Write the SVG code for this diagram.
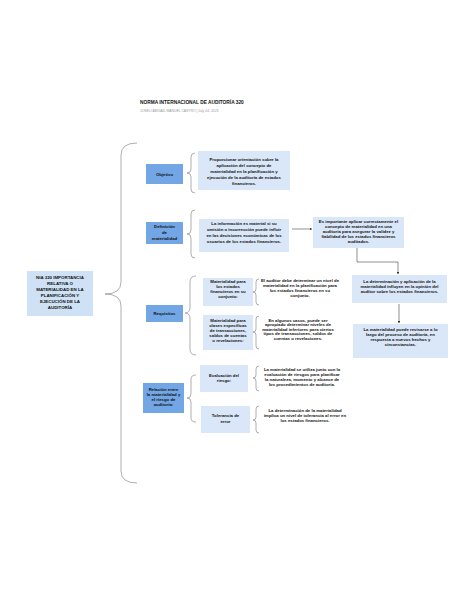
<svg xmlns="http://www.w3.org/2000/svg" width="474" height="613" viewBox="0 0 474 613">
<defs>
<marker id="ah" viewBox="0 0 6 6" refX="5.5" refY="3" markerWidth="4" markerHeight="4" orient="auto"><path d="M0,0 L6,3 L0,6 z" fill="#333"/></marker>
<style>
text{font-family:"Liberation Sans",Arial,sans-serif;fill:#111;text-anchor:middle}
.t{font-size:4.3px;font-weight:bold}
.m{font-size:4.4px;font-weight:bold}
.h{font-size:4.8px;font-weight:bold;text-anchor:start}
.s{font-size:3.4px;fill:#9a9a9a;text-anchor:start}
.b1{fill:#72a6e4}
.lb{fill:#dae7f8}
.mb{fill:#cfe1f5}
.br{fill:none;stroke:#8c8c8c;stroke-width:0.7}
.cn{fill:none;stroke:#444;stroke-width:0.6}
</style>
</defs>
<rect width="474" height="613" fill="#fff"/>
<g id="title">
<text class="h" x="140" y="104">NORMA INTERNACIONAL DE AUDITORÍA 320</text>
<text class="s" x="140" y="112">JOSELI ABIGAIL MANUEL CASTRO  |  July 04, 2023</text>
</g>
<g id="connectors">
<path class="br" d="M137,143 Q121,143 121,155 L121,282 Q121,294 105,294 Q121,294 121,306 L121,471 Q121,483 137,483"/>
<path class="br" d="M195,153 Q191,153 191,157 L191,169 Q191,173 187,173 Q191,173 191,177 L191,189 Q191,193 195,193"/>
<path class="br" d="M195,210 Q191,210 191,214 L191,230 Q191,234 187,234 Q191,234 191,238 L191,254 Q191,258 195,258"/>
<path class="br" d="M196,276 Q190,276 190,282 L190,307 Q190,313 185,313 Q190,313 190,319 L190,349 Q190,355 196,355"/>
<path class="br" d="M196,375 Q191,375 191,379 L191,394 Q191,398 187,398 Q191,398 191,402 L191,418 Q191,422 196,422"/>
<path class="br" d="M259,279 Q256,279 256,282 L256,289 Q256,292 253,292 Q256,292 256,295 L256,302 Q256,305 259,305"/>
<path class="br" d="M259,316 Q256,316 256,319 L256,329 Q256,332 253,332 Q256,332 256,335 L256,346 Q256,349 259,349"/>
<path class="br" d="M259,366 Q256,366 256,369 L256,375 Q256,378 253,378 Q256,378 256,381 L256,388 Q256,391 259,391"/>
<path class="br" d="M259,406 Q256,406 256,409 L256,417 Q256,420 253,420 Q256,420 256,423 L256,430 Q256,433 259,433"/>
<path class="cn" d="M292,229 L312,229" marker-end="url(#ah)"/>
<path class="cn" d="M357,248 L357,262 L398,262 L398,274" marker-end="url(#ah)"/>
<path class="cn" d="M399,304 L399,323" marker-end="url(#ah)"/>
</g>
<g id="main">
<rect class="mb" x="27" y="271" width="66" height="45"/>
<text class="m" x="60" y="279">NIA 320 IMPORTANCIA</text>
<text class="m" x="60" y="285">RELATIVA O</text>
<text class="m" x="60" y="291">MATERIALIDAD EN LA</text>
<text class="m" x="60" y="297">PLANIFICACIÓN Y</text>
<text class="m" x="60" y="303">EJECUCIÓN DE LA</text>
<text class="m" x="60" y="309">AUDITORÍA</text>
</g>
<g id="objetivo">
<rect class="b1" x="146" y="164" width="37" height="20"/>
<text class="t" x="164.5" y="175.5">Objetivo</text>
</g>
<g id="objetivo-texto">
<rect class="lb" x="198" y="151" width="92" height="39"/>
<text class="t" x="244" y="161">Proporcionar orientación sobre la</text>
<text class="t" x="244" y="167">aplicación del concepto de</text>
<text class="t" x="244" y="173">materialidad en la planificación y</text>
<text class="t" x="244" y="179">ejecución de la auditoría de estados</text>
<text class="t" x="244" y="185">financieros.</text>
</g>
<g id="definicion">
<rect class="b1" x="146" y="222" width="37" height="22"/>
<text class="t" x="164.5" y="228">Definición</text>
<text class="t" x="164.5" y="233.5">de</text>
<text class="t" x="164.5" y="239.5">materialidad</text>
</g>
<g id="definicion-texto">
<rect class="lb" x="199" y="219" width="90" height="33"/>
<text class="t" x="244" y="225">La información es material si su</text>
<text class="t" x="244" y="231">omisión o incorrección puede influir</text>
<text class="t" x="244" y="237">en las decisiones económicas de los</text>
<text class="t" x="244" y="243">usuarios de los estados financieros.</text>
</g>
<g id="importante">
<rect class="lb" x="313" y="217" width="91" height="31"/>
<text class="t" x="358.5" y="222.5">Es importante aplicar correctamente el</text>
<text class="t" x="358.5" y="227.5">concepto de materialidad en una</text>
<text class="t" x="358.5" y="232.5">auditoría para asegurar la validez y</text>
<text class="t" x="358.5" y="237.5">fiabilidad de los estados financieros</text>
<text class="t" x="358.5" y="242.5">auditados.</text>
</g>
<g id="opinion">
<rect class="lb" x="352" y="275" width="95" height="28"/>
<text class="t" x="399.5" y="283">La determinación y aplicación de la</text>
<text class="t" x="399.5" y="288">materialidad influyen en la opinión del</text>
<text class="t" x="399.5" y="293">auditor sobre los estados financieros.</text>
</g>
<g id="revision">
<rect class="lb" x="353" y="324" width="95" height="34"/>
<text class="t" x="400.5" y="331">La materialidad puede revisarse a lo</text>
<text class="t" x="400.5" y="336">largo del proceso de auditoría, en</text>
<text class="t" x="400.5" y="341">respuesta a nuevos hechos y</text>
<text class="t" x="400.5" y="346">circunstancias.</text>
</g>
<g id="requisitos">
<rect class="b1" x="146" y="305" width="37" height="17"/>
<text class="t" x="164.5" y="314.5">Requisitos</text>
</g>
<g id="req-conjunto">
<rect class="lb" x="203" y="278" width="50" height="28"/>
<text class="t" x="228" y="282.5">Materialidad para</text>
<text class="t" x="228" y="287.5">los estados</text>
<text class="t" x="228" y="292.5">financieros en su</text>
<text class="t" x="228" y="297.5">conjunto:</text>
</g>
<g id="req-conjunto-texto">
<text class="t" x="300" y="282">El auditor debe determinar un nivel de</text>
<text class="t" x="300" y="287">materialidad en la planificación para</text>
<text class="t" x="300" y="292">los estados financieros en su</text>
<text class="t" x="300" y="297">conjunto.</text>
</g>
<g id="req-clases">
<rect class="lb" x="203" y="315" width="50" height="35"/>
<text class="t" x="228" y="321.5">Materialidad para</text>
<text class="t" x="228" y="326.5">clases específicas</text>
<text class="t" x="228" y="331.5">de transacciones,</text>
<text class="t" x="228" y="336.5">saldos de cuentas</text>
<text class="t" x="228" y="341.5">o revelaciones:</text>
</g>
<g id="req-clases-texto">
<text class="t" x="298" y="321.5">En algunos casos, puede ser</text>
<text class="t" x="298" y="326">apropiado determinar niveles de</text>
<text class="t" x="298" y="330.5">materialidad inferiores para ciertos</text>
<text class="t" x="298" y="335">tipos de transacciones, saldos de</text>
<text class="t" x="298" y="339.5">cuentas o revelaciones.</text>
</g>
<g id="relacion">
<rect class="b1" x="143" y="383" width="41" height="30"/>
<text class="t" x="163.5" y="390.5">Relación entre</text>
<text class="t" x="163.5" y="395.5">la materialidad y</text>
<text class="t" x="163.5" y="400.5">el riesgo de</text>
<text class="t" x="163.5" y="405.5">auditoría:</text>
</g>
<g id="evaluacion">
<rect class="lb" x="200" y="365" width="48" height="27"/>
<text class="t" x="224" y="376.5">Evaluación del</text>
<text class="t" x="224" y="382">riesgo:</text>
</g>
<g id="evaluacion-texto">
<text class="t" x="302" y="371">La materialidad se utiliza junto con la</text>
<text class="t" x="302" y="376">evaluación de riesgos para planificar</text>
<text class="t" x="302" y="381">la naturaleza, momento y alcance de</text>
<text class="t" x="302" y="386">los procedimientos de auditoría.</text>
</g>
<g id="tolerancia">
<rect class="lb" x="201" y="406" width="49" height="27"/>
<text class="t" x="225.5" y="417">Tolerancia de</text>
<text class="t" x="225.5" y="422.5">error</text>
</g>
<g id="tolerancia-texto">
<text class="t" x="305" y="412">La determinación de la materialidad</text>
<text class="t" x="305" y="417">implica un nivel de tolerancia al error en</text>
<text class="t" x="305" y="422">los estados financieros.</text>
</g>
</svg>
